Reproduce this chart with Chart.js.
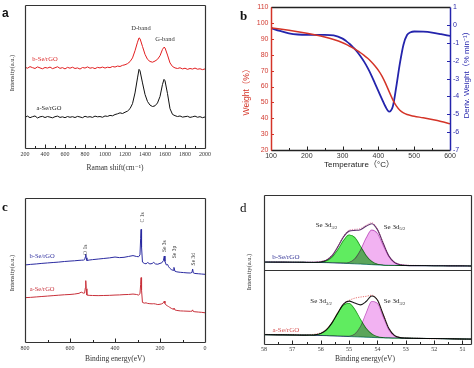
<!DOCTYPE html>
<html>
<head>
<meta charset="utf-8">
<script src="https://cdn.jsdelivr.net/npm/chart.js@4.4.1/dist/chart.umd.min.js"></script>
<style>
  body { margin: 0; background: #fff; width: 474px; height: 368px; position: relative; overflow: hidden; }
  canvas { position: absolute; }
  .tag { position: absolute; line-height: 13px; color: #111; }
</style>
</head>
<body>
<canvas id="pa" width="237" height="185" style="left:0;top:0"></canvas>
<canvas id="pb" width="237" height="185" style="left:237px;top:0"></canvas>
<canvas id="pc" width="237" height="183" style="left:0;top:185px"></canvas>
<canvas id="pd" width="237" height="183" style="left:237px;top:185px"></canvas>
<div class="tag" style="left:2px;top:6px;font:bold 12px 'Liberation Sans'">a</div>
<div class="tag" style="left:240px;top:8px;font:bold 13px 'Liberation Serif'">b</div>
<div class="tag" style="left:2px;top:199px;font:bold 13px 'Liberation Serif'">c</div>
<div class="tag" style="left:240px;top:200px;font:13px 'Liberation Serif'">d</div>
<script>
// ---- a: Raman spectra ----
var ramanShift = [200,225,250,275,300,325,350,375,400,425,450,475,500,525,550,575,600,625,650,675,
  700,725,750,775,800,825,850,875,900,925,950,975,1000,1025,1050,1075,1100,1125,1150,1175,
  1200,1225,1250,1275,1300,1325,1340,1350,1375,1400,1425,1450,1475,1500,1525,1550,1575,1590,1600,
  1625,1650,1675,1700,1725,1750,1775,1800,1825,1850,1875,1900,1925,1950,1975,2000];
var ramanA = [21.5,22.3,21.2,21.9,22.4,21.0,21.8,22.1,21.3,22.0,
  21.6,21.1,21.9,22.3,21.4,21.8,21.2,22.0,21.5,21.9,
  21.3,22.1,21.7,21.2,22.2,21.6,21.9,21.4,22.3,21.8,
  22.0,21.5,22.4,22.1,22.8,22.5,23.4,23.9,24.6,24.1,
  25.0,25.8,27.5,31.0,38.5,49.0,55.0,54.0,
  45.5,37.5,32.5,30.0,29.0,29.5,31.5,36.0,44.5,48.0,47.0,
  38.0,27.5,23.5,22.6,22.0,22.4,21.6,21.9,22.2,21.4,21.8,22.3,21.5,21.9,21.2,21.7];
var ramanB = [56.5,55.8,56.9,56.2,55.6,56.7,56.0,55.4,56.3,55.9,
  56.6,55.5,56.1,56.8,55.7,56.2,55.3,56.4,55.8,56.5,
  55.6,56.0,55.2,56.3,55.9,56.7,55.8,56.2,55.5,56.4,
  56.0,56.6,55.9,56.5,56.2,57.0,56.6,57.3,57.0,57.8,
  58.2,59.0,60.4,63.0,68.0,74.0,77.0,76.5,
  71.0,65.5,62.0,60.5,60.0,60.8,62.0,64.5,69.0,70.5,70.0,
  65.0,59.5,57.0,56.0,55.6,56.1,55.3,55.8,55.0,55.6,55.2,55.9,55.1,55.4,54.8,55.3];
var ramanTicks = [200,400,600,800,1000,1200,1400,1600,1800,2000];

// ---- b: TGA / DTG ----
var tgaTemp = [100,125,150,175,200,225,250,275,300,310,320,330,340,350,360,370,380,390,400,410,
  420,430,440,450,460,470,480,490,500,525,550,575,600];
var tgaWeight = [97.0,96.3,95.5,94.6,93.6,92.5,91.2,89.6,87.6,86.6,85.4,84.2,82.8,81.3,79.6,77.8,75.6,73.1,70.2,66.6,
  62.0,56.8,51.8,47.8,45.1,43.4,42.4,41.8,41.3,40.3,39.2,38.0,36.6];
var tgaDeriv = [-0.17,-0.33,-0.46,-0.53,-0.55,-0.55,-0.55,-0.58,-0.76,-0.90,-1.06,-1.26,-1.48,-1.75,-2.05,-2.40,-2.80,-3.25,-3.70,-4.15,
  -4.58,-4.85,-4.58,-3.45,-2.15,-1.10,-0.56,-0.40,-0.36,-0.37,-0.42,-0.51,-0.61];
var tempTicks = [100,200,300,400,500,600];
var weightTicks = [20,30,40,50,60,70,80,90,100,110];
var derivTicks = [-7,-6,-5,-4,-3,-2,-1,0,1];

// ---- c: XPS survey ----
var surveyBE = [800,775,750,725,700,675,650,625,600,580,560,550,540,535,532,530,528,525,515,500,
  475,450,425,400,380,360,340,320,305,295,289,286,284,282,278,270,262,255,245,235,
  228,220,210,200,192,185,181,178,172,166,162,158,150,142,138,134,125,110,95,80,
  65,58,55,52,45,30,15,0];
var surveyB = [53.5,53.9,54.2,54.6,54.9,55.2,55.5,55.9,56.2,56.4,56.7,56.8,56.9,57.2,59.0,61.0,58.5,56.6,56.9,57.2,
  57.6,58.0,58.4,59.0,58.6,58.8,59.4,60.0,59.4,59.2,60.5,72.0,78.2,66.0,55.5,54.6,54.3,55.2,54.2,54.5,
  55.3,54.2,54.0,54.6,55.0,56.5,59.7,56.0,53.5,53.8,52.3,51.5,50.3,49.8,51.8,49.2,48.7,48.4,48.2,48.0,
  47.9,48.3,50.7,48.0,47.6,47.4,47.2,47.0];
var surveyA = [30.8,31.0,31.3,31.6,31.9,32.2,32.5,32.8,33.0,33.3,33.8,34.6,33.9,34.0,37.5,42.6,37.0,32.6,32.4,32.3,
  32.2,32.3,32.4,32.6,32.7,32.9,33.0,33.3,33.0,32.6,33.5,40.0,44.7,36.0,27.5,27.0,27.2,26.8,26.6,26.5,
  26.6,26.4,26.0,26.2,26.5,27.2,28.4,26.8,25.5,25.0,24.6,24.2,23.4,22.8,23.6,22.3,21.9,21.6,21.5,21.4,
  21.3,21.4,22.3,21.2,21.0,20.8,20.6,20.3];
var surveyTicks = [0,200,400,600,800];

// ---- d: Se 3d high resolution (top = b-Se/rGO, bottom = a-Se/rGO) ----
var se3dBE = [58.0,57.5,57.0,56.6,56.4,56.2,56.0,55.8,55.6,55.4,55.2,55.0,54.8,54.6,54.4,54.2,54.0,53.8,53.6,53.4,
  53.2,53.0,52.6,52.0,51.5,51.0,50.7];
var bBg = [110.0,109.9,109.8,109.7,109.6,109.5,109.4,109.2,109.0,108.7,108.4,108.0,107.6,107.3,106.9,106.5,106.1,105.8,105.6,105.5,
  105.4,105.3,105.2,105.0,104.9,104.8,104.7];
var bGreen = [110.0,109.9,109.8,109.7,109.6,109.6,110.0,111.6,116.6,126.4,138.8,146.5,143.1,131.4,118.9,110.9,107.3,106.0,105.6,105.5,
  105.4,105.3,105.2,105.0,104.9,104.8,104.7];
var bPink = [110.0,109.9,109.8,109.7,109.6,109.5,109.4,109.2,109.0,108.7,108.7,109.7,114.4,125.9,142.2,153.0,148.5,132.6,117.3,109.1,
  106.2,105.4,105.2,105.0,104.9,104.8,104.7];
var bFit = [110.0,109.9,109.8,109.7,109.7,109.8,110.3,112.5,118.5,130.0,143.5,151.5,152.5,153.5,158.0,161.5,153.5,135.5,118.5,109.5,
  106.4,105.5,105.2,105.0,104.9,104.8,104.7];
var bRaw = [110.3,110.1,110.0,109.9,110.0,110.1,110.8,113.2,119.5,131.2,144.5,152.8,154.0,155.0,159.5,162.8,154.5,136.5,119.0,110.2,
  107.0,105.9,105.5,105.3,105.1,104.9,104.8];
var aBg = [12.5,12.3,12.1,11.9,11.8,11.6,11.4,11.2,10.9,10.6,10.3,10.0,9.7,9.4,9.1,8.8,8.5,8.3,8.1,8.0,
  7.9,7.8,7.6,7.3,7.0,6.7,6.6];
var aGreen = [12.5,12.3,12.1,11.9,12.0,12.3,14.1,18.9,28.4,41.3,52.2,54.6,46.7,33.3,21.1,13.5,9.9,8.6,8.1,8.0,
  7.9,7.8,7.6,7.3,7.0,6.7,6.6];
var aPink = [12.5,12.3,12.1,11.9,11.8,11.6,11.4,11.2,10.9,10.6,10.4,10.7,13.5,23.3,41.4,57.1,54.7,36.6,19.2,10.8,
  8.35,7.85,7.6,7.3,7.0,6.7,6.6];
var aFit = [12.5,12.3,12.1,11.9,12.0,12.3,14.1,18.9,28.4,41.3,53.5,57.5,55.0,52.5,57.0,64.5,59.0,40.0,21.0,11.5,
  8.6,7.9,7.6,7.3,7.0,6.7,6.6];
var aRaw = [13.0,12.6,12.8,12.0,12.5,13.2,15.0,20.0,29.5,42.5,53.5,58.5,61.5,63.0,64.0,65.5,59.0,40.5,21.5,11.2,
  8.8,8.0,7.8,7.0,7.4,6.5,6.8];
var se3dTicks = [51,52,53,54,55,56,57,58];

Chart.defaults.animation = false;
Chart.defaults.plugins.legend.display = false;
Chart.defaults.plugins.tooltip.enabled = false;
Chart.defaults.elements.point.radius = 0;
Chart.defaults.elements.line.borderWidth = 1;

var SERIF = "'Liberation Serif', 'DejaVu Serif', serif";
var SANS = "'Liberation Sans', 'Noto Sans CJK SC', sans-serif";
var NOGRID = {display: false, drawTicks: false};

function pts(xs, ys) { return xs.map(function (x, i) { return {x: x, y: ys[i]}; }); }
function useTicks(list) { return function (s) { s.ticks = list.map(function (v) { return {value: v}; }); }; }
function fixSize(n) { return function (s) { if (s.isHorizontal()) s.height = n; else s.width = n; }; }
function plain(v) { return String(v); }

function drawText(ctx, t) {
  ctx.save();
  ctx.translate(t.px, t.py);
  if (t.rot) ctx.rotate(t.rot * Math.PI / 180);
  ctx.font = t.font;
  ctx.fillStyle = t.color || '#222';
  ctx.textBaseline = 'middle';
  ctx.textAlign = 'left';
  var w = ctx.measureText(t.text).width, sw = 0;
  if (t.sub) { ctx.font = t.subFont; sw = ctx.measureText(t.sub).width; ctx.font = t.font; }
  var x0 = -(w + sw) / 2;
  ctx.fillText(t.text, x0, 0);
  if (t.sub) { ctx.font = t.subFont; ctx.fillText(t.sub, x0 + w, 2); }
  ctx.restore();
}

// frame, inward ticks, divider, annotations and axis titles
var decor = {
  id: 'decor',
  beforeDatasetsDraw: function (chart, args, o) {
    if (o.blend) chart.ctx.globalCompositeOperation = o.blend;
  },
  afterDatasetsDraw: function (chart) {
    chart.ctx.globalCompositeOperation = 'source-over';
  },
  afterDraw: function (chart, args, o) {
    var ctx = chart.ctx, a = chart.chartArea, sx = chart.scales.x;
    ctx.save();
    ctx.lineWidth = 1;
    ctx.strokeStyle = o.tickColor || '#222';
    function xt(v, len) {
      var p = Math.round(sx.getPixelForValue(v)) + 0.5;
      ctx.beginPath(); ctx.moveTo(p, a.bottom); ctx.lineTo(p, a.bottom - len); ctx.stroke();
    }
    if (o.minor) {
      var n0 = Math.ceil(sx.min / o.minor - 1e-6), n1 = Math.floor(sx.max / o.minor + 1e-6);
      for (var n = n0; n <= n1; n++) xt(n * o.minor, 2);
    }
    sx.ticks.forEach(function (t) { xt(t.value, 3.5); });
    (o.yTicks || []).forEach(function (yt) {
      var s = chart.scales[yt.id];
      ctx.strokeStyle = yt.color;
      s.ticks.forEach(function (t) {
        var p = Math.round(s.getPixelForValue(t.value)) + 0.5;
        ctx.beginPath();
        if (yt.side === 'left') { ctx.moveTo(a.left, p); ctx.lineTo(a.left + 3, p); }
        else { ctx.moveTo(a.right, p); ctx.lineTo(a.right - 3, p); }
        ctx.stroke();
      });
    });
    if (o.divider !== undefined) {
      var dy = Math.round(chart.scales.y.getPixelForValue(o.divider)) + 0.5;
      ctx.strokeStyle = '#333'; ctx.lineWidth = 1.2;
      ctx.beginPath(); ctx.moveTo(a.left, dy); ctx.lineTo(a.right, dy); ctx.stroke();
    }
    var f = o.frame, L = Math.round(a.left) + 0.5, R = Math.round(a.right) + 0.5,
        T = Math.round(a.top) + 0.5, B = Math.round(a.bottom) + 0.5;
    ctx.lineWidth = f.width;
    [[L, T, R, T, f.top], [L, B, R, B, f.bottom], [L, T, L, B, f.left], [R, T, R, B, f.right]].forEach(function (s) {
      ctx.strokeStyle = s[4];
      ctx.beginPath(); ctx.moveTo(s[0], s[1]); ctx.lineTo(s[2], s[3]); ctx.stroke();
    });
    (o.labels || []).forEach(function (l) {
      drawText(ctx, {px: sx.getPixelForValue(l.x), py: chart.scales.y.getPixelForValue(l.y),
        text: l.text, sub: l.sub, font: l.font, subFont: l.subFont, color: l.color, rot: l.rot});
    });
    (o.titles || []).forEach(function (t) { drawText(ctx, t); });
    ctx.restore();
  }
};

function box(c) { return {width: 1.2, top: c, bottom: c, left: c, right: c}; }

// ---------- panel a ----------
new Chart(document.getElementById('pa'), {
  type: 'line',
  data: {datasets: [
    {data: pts(ramanShift, ramanB), borderColor: 'rgb(226,30,32)', borderWidth: 1},
    {data: pts(ramanShift, ramanA), borderColor: '#111', borderWidth: 1}
  ]},
  options: {
    responsive: false, devicePixelRatio: 1,
    layout: {padding: {left: 0, right: 32, top: 5, bottom: 0}},
    scales: {
      x: {type: 'linear', min: 200, max: 2000, afterBuildTicks: useTicks(ramanTicks), afterFit: fixSize(37),
        grid: NOGRID, border: {display: false},
        ticks: {callback: plain, font: {family: SERIF, size: 6}, color: '#333', padding: 3, maxRotation: 0, autoSkip: false}},
      y: {min: 0, max: 100, afterFit: fixSize(25), grid: NOGRID, border: {display: false}, ticks: {display: false}}
    },
    plugins: {decor: {
      frame: box('#333'), minor: 100,
      labels: [
        {x: 1360, y: 84, text: 'D-band', font: '6.5px ' + SERIF, color: '#333'},
        {x: 1600, y: 76, text: 'G-band', font: '6.5px ' + SERIF, color: '#333'},
        {x: 400, y: 62, text: 'b-Se/rGO', font: '6.5px ' + SERIF, color: 'rgb(220,40,40)'},
        {x: 440, y: 27.5, text: 'a-Se/rGO', font: '6.5px ' + SERIF, color: '#222'}
      ],
      titles: [
        {px: 12, py: 73, rot: -90, text: 'Intensity(a.u.)', font: '6.5px ' + SERIF, color: '#333'},
        {px: 115, py: 168, text: 'Raman shift(cm\u207B\u00B9)', font: '7.5px ' + SERIF, color: '#333'}
      ]
    }}
  },
  plugins: [decor]
});

// ---------- panel b ----------
new Chart(document.getElementById('pb'), {
  type: 'line',
  data: {datasets: [
    {data: pts(tgaTemp, tgaWeight), yAxisID: 'y', borderColor: 'rgb(212,52,40)', borderWidth: 1.5, cubicInterpolationMode: 'monotone'},
    {data: pts(tgaTemp, tgaDeriv), yAxisID: 'y1', borderColor: 'rgb(36,36,172)', borderWidth: 1.8, cubicInterpolationMode: 'monotone'}
  ]},
  options: {
    responsive: false, devicePixelRatio: 1,
    layout: {padding: {left: 0, right: 0, top: 6, bottom: 0}},
    scales: {
      x: {type: 'linear', min: 100, max: 600, afterBuildTicks: useTicks(tempTicks), afterFit: fixSize(35),
        grid: NOGRID, border: {display: false},
        ticks: {callback: plain, font: {family: SANS, size: 7}, color: '#333', padding: 2, maxRotation: 0, autoSkip: false}},
      y: {position: 'left', min: 20, max: 110, afterBuildTicks: useTicks(weightTicks), afterFit: fixSize(34),
        grid: NOGRID, border: {display: false},
        ticks: {callback: plain, font: {family: SANS, size: 7}, color: 'rgb(210,60,50)', padding: 2.5, autoSkip: false}},
      y1: {position: 'right', min: -7, max: 1, afterBuildTicks: useTicks(derivTicks), afterFit: fixSize(24),
        grid: NOGRID, border: {display: false},
        ticks: {callback: plain, font: {family: SANS, size: 7}, color: 'rgb(40,40,170)', padding: 3, autoSkip: false}}
    },
    plugins: {decor: {
      frame: {width: 1.5, top: '#222', bottom: '#222', left: 'rgb(212,52,40)', right: 'rgb(36,36,172)'},
      minor: 50,
      yTicks: [{id: 'y', side: 'left', color: 'rgb(212,52,40)'}, {id: 'y1', side: 'right', color: 'rgb(36,36,172)'}],
      titles: [
        {px: 10, py: 90, rot: -90, text: 'Weight\uFF08%\uFF09', font: '8.5px ' + SANS, color: 'rgb(212,52,40)'},
        {px: 230, py: 73, rot: -90, text: 'Deriv. Weight\uFF08% min\u207B\u00B9\uFF09', font: '8px ' + SANS, color: 'rgb(36,36,172)'},
        {px: 122, py: 165, text: 'Temperature\uFF08\u00B0C\uFF09', font: '8px ' + SANS, color: '#222'}
      ]
    }}
  },
  plugins: [decor]
});

// ---------- panel c ----------
var peakFont = '5.5px ' + SERIF;
new Chart(document.getElementById('pc'), {
  type: 'line',
  data: {datasets: [
    {data: pts(surveyBE, surveyB), borderColor: 'rgb(42,42,160)', borderWidth: 1},
    {data: pts(surveyBE, surveyA), borderColor: 'rgb(200,48,58)', borderWidth: 1}
  ]},
  options: {
    responsive: false, devicePixelRatio: 1,
    layout: {padding: {left: 0, right: 32, top: 13, bottom: 0}},
    scales: {
      x: {type: 'linear', reverse: true, min: 0, max: 800, afterBuildTicks: useTicks(surveyTicks), afterFit: fixSize(26),
        grid: NOGRID, border: {display: false},
        ticks: {callback: plain, font: {family: SERIF, size: 6}, color: '#333', padding: 2.5, maxRotation: 0, autoSkip: false}},
      y: {min: 0, max: 100, afterFit: fixSize(25), grid: NOGRID, border: {display: false}, ticks: {display: false}}
    },
    plugins: {decor: {
      frame: box('#333'), minor: 100,
      labels: [
        {x: 530, y: 64, rot: -90, text: 'O 1s', font: peakFont, color: '#333'},
        {x: 279, y: 86.5, rot: -90, text: 'C 1s', font: peakFont, color: '#333'},
        {x: 181, y: 66.5, rot: -90, text: 'Se 3s', font: peakFont, color: '#333'},
        {x: 136, y: 62.5, rot: -90, text: 'Se 3p', font: peakFont, color: '#333'},
        {x: 53, y: 57.5, rot: -90, text: 'Se 3d', font: peakFont, color: '#333'},
        {x: 724, y: 59.7, text: 'b-Se/rGO', font: '6.5px ' + SERIF, color: 'rgb(50,50,160)'},
        {x: 724, y: 36.8, text: 'a-Se/rGO', font: '6.5px ' + SERIF, color: 'rgb(200,50,60)'}
      ],
      titles: [
        {px: 12, py: 88, rot: -90, text: 'Intensity(a.u.)', font: '6.5px ' + SERIF, color: '#333'},
        {px: 115, py: 174, text: 'Binding energy(eV)', font: '7.5px ' + SERIF, color: '#333'}
      ]
    }}
  },
  plugins: [decor]
});

// ---------- panel d ----------
var GREEN = 'rgb(96,236,96)', PINK = 'rgb(242,178,242)', TEAL = 'rgb(60,150,150)';
function comp(ys, fillTo, bg, line) {
  return {data: pts(se3dBE, ys), fill: fillTo, backgroundColor: bg, borderColor: line, borderWidth: 0.8,
    cubicInterpolationMode: 'monotone'};
}
function curve(ys, color, width, dash) {
  return {data: pts(se3dBE, ys), borderColor: color, borderWidth: width, borderDash: dash || [],
    cubicInterpolationMode: 'monotone'};
}
var subF = '4.5px ' + SERIF, lblF = '7px ' + SERIF;
new Chart(document.getElementById('pd'), {
  type: 'line',
  data: {datasets: [
    curve(bRaw, 'rgb(232,140,175)', 1, [1.2, 1.2]),   // 0
    curve(bFit, 'rgb(96,52,112)', 1.1),               // 1
    curve(aRaw, 'rgb(232,110,110)', 1, [1.2, 1.2]),   // 2
    curve(aFit, '#1a1a1a', 1.1),                      // 3
    curve(bBg, TEAL, 1),                              // 4
    curve(aBg, TEAL, 1),                              // 5
    comp(bGreen, 4, GREEN, 'rgb(40,160,40)'),         // 6
    comp(bPink, 4, PINK, 'rgb(200,110,200)'),         // 7
    comp(aGreen, 5, GREEN, 'rgb(40,160,40)'),         // 8
    comp(aPink, 5, PINK, 'rgb(200,110,200)')          // 9
  ]},
  options: {
    responsive: false, devicePixelRatio: 1,
    layout: {padding: {left: 0, right: 3, top: 10, bottom: 0}},
    scales: {
      x: {type: 'linear', reverse: true, min: 50.7, max: 58, afterBuildTicks: useTicks(se3dTicks), afterFit: fixSize(24),
        grid: NOGRID, border: {display: false},
        ticks: {callback: plain, font: {family: SERIF, size: 6}, color: '#333', padding: 1.5, maxRotation: 0, autoSkip: false}},
      y: {min: 0, max: 200, afterFit: fixSize(27), grid: NOGRID, border: {display: false}, ticks: {display: false}}
    },
    plugins: {decor: {
      blend: 'multiply', frame: box('#333'), minor: 0.5, divider: 100,
      labels: [
        {x: 55.8, y: 159, text: 'Se 3d', sub: '3/2', font: lblF, subFont: subF, color: '#222'},
        {x: 53.4, y: 157, text: 'Se 3d', sub: '5/2', font: lblF, subFont: subF, color: '#222'},
        {x: 55.99, y: 57, text: 'Se 3d', sub: '3/2', font: lblF, subFont: subF, color: '#222'},
        {x: 53.4, y: 57, text: 'Se 3d', sub: '3/2', font: lblF, subFont: subF, color: '#222'},
        {x: 57.23, y: 117, text: 'b-Se/rGO', font: lblF, color: 'rgb(50,50,150)'},
        {x: 57.23, y: 18.5, text: 'a-Se/rGO', font: lblF, color: 'rgb(215,80,80)'}
      ],
      titles: [
        {px: 12, py: 87, rot: -90, text: 'Intensity(a.u.)', font: '6.5px ' + SERIF, color: '#333'},
        {px: 128, py: 174, text: 'Binding energy(eV)', font: '7.5px ' + SERIF, color: '#333'}
      ]
    }}
  },
  plugins: [decor]
});
</script>
</body>
</html>
